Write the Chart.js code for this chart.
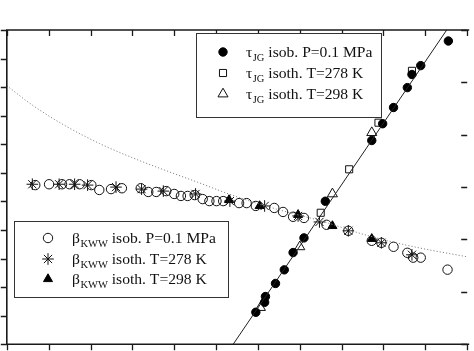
<!DOCTYPE html>
<html><head><meta charset="utf-8">
<script src="https://cdn.jsdelivr.net/npm/chart.js@4"></script>
<style>html,body{margin:0;padding:0;background:#fff}</style>
</head><body>
<canvas id="c" width="474" height="351"></canvas>
<script>
// ---- data (generic axis units) ----
const xTicks = [0,1,2,3,4,5,6,7,8,9,10,11];
const yLeftTicks = [0,1,2,3,4,5,6,7,8,9,10,11];
const yRightTicks = [0,1,2,3,4,5,6];

// beta_KWW isobaric P=0.1 MPa (open circles, left axis)
const betaIsobX = [0.68,1.01,1.32,1.50,1.74,2.02,2.21,2.49,2.75,3.20,3.38,3.57,3.81,4.00,4.16,4.32,4.49,4.68,4.84,5.01,5.17,5.55,5.73,5.95,6.39,6.60,6.84,7.10,7.64,8.16,8.72,8.95,9.24,9.57,9.71,9.89,10.53];
const betaIsobY = [5.57,5.60,5.60,5.60,5.60,5.57,5.40,5.43,5.46,5.46,5.33,5.33,5.36,5.26,5.19,5.19,5.22,5.08,5.01,5.01,5.01,4.94,4.94,4.84,4.77,4.63,4.46,4.42,4.18,3.97,3.62,3.55,3.41,3.20,3.03,3.03,2.61];
// beta_KWW isothermal T=278 K (stars)
const beta278X = [0.61,1.25,1.62,1.93,2.61,3.22,3.74,4.51,5.33,6.16,6.96,7.47,8.16,8.95,9.68];
const beta278Y = [5.60,5.60,5.60,5.57,5.50,5.43,5.36,5.26,5.01,4.84,4.49,4.28,3.97,3.55,3.13];
// beta_KWW isothermal T=298 K (filled triangles)
const beta298X = [5.31,6.04,6.96,7.78,8.72];
const beta298Y = [5.05,4.84,4.53,4.14,3.69];
// dotted guide curve (left axis)
const curveX = [0,0.63,1.43,2.21,2.98,3.78,4.56,5.38,6.44,7.50,8.56,9.73,11.0];
const curveY = [9.05,8.35,7.62,7.03,6.54,6.09,5.67,5.22,4.73,4.32,3.83,3.41,3.06];

// tau_JG isobaric P=0.1 MPa (filled circles, right axis)
const tauIsobX = [10.55,9.89,9.68,9.57,9.24,8.98,8.72,7.61,7.10,6.84,6.63,6.42,6.18,6.16,5.95];
const tauIsobY = [5.79,5.32,5.15,4.90,4.52,4.21,3.89,2.73,2.03,1.75,1.42,1.16,0.91,0.80,0.61];
// tau_JG isothermal T=278 K (open squares)
const tau278X = [9.68,8.88,8.18,7.50];
const tau278Y = [5.22,4.23,3.34,2.51];
// tau_JG isothermal T=298 K (open triangles)
const tau298X = [8.72,7.78,7.00,6.06];
const tau298Y = [4.04,2.87,1.86,0.70];
// linear fit through tau
const fitX = [5.41,10.51];
const fitY = [0,6.0];

const pts = (xs, ys) => xs.map((x,i)=>({x, y: ys[i]}));

const FONT = '"Liberation Serif", "Times New Roman", serif';

const legends = [
  {box:[196,33,381,117], symX:223, textX:246, rows:[
    {y:52, main:'τ', sub:'JG', rest:' isob. P=0.1 MPa', ds:2},
    {y:73, main:'τ', sub:'JG', rest:' isoth. T=278 K', ds:3},
    {y:94, main:'τ', sub:'JG', rest:' isoth. T=298 K', ds:4}]},
  {box:[14,221,228,297], symX:48, textX:72, rows:[
    {y:238, main:'β', sub:'KWW', rest:' isob. P=0.1 MPa', ds:5},
    {y:259, main:'β', sub:'KWW', rest:' isoth. T=278 K', ds:6},
    {y:279, main:'β', sub:'KWW', rest:' isoth. T=298 K', ds:7}]}
];

const framePlugin = {
  id: 'frame',
  afterDraw(chart) {
    const {ctx, chartArea: a, scales} = chart;
    ctx.save();
    ctx.strokeStyle = '#1a1a1a';
    ctx.lineWidth = 1.6;
    ctx.beginPath();
    ctx.moveTo(a.right + 2, a.top); ctx.lineTo(a.left, a.top);
    ctx.lineTo(a.left, a.bottom); ctx.lineTo(a.right + 2, a.bottom);
    ctx.stroke();
    ctx.lineWidth = 1.3;
    ctx.beginPath();
    xTicks.forEach(v => {
      const px = Math.round(scales.x.getPixelForValue(v)) + 0.5;
      ctx.moveTo(px, a.bottom); ctx.lineTo(px, a.bottom + 6);   // bottom outward
      ctx.moveTo(px, a.top); ctx.lineTo(px, a.top + 6);         // top inward
    });
    yLeftTicks.forEach(v => {
      const py = Math.round(scales.y.getPixelForValue(v)) + 0.5;
      ctx.moveTo(a.left - 6, py); ctx.lineTo(a.left, py);
    });
    yRightTicks.forEach(v => {
      const py = Math.round(scales.y2.getPixelForValue(v)) + 0.5;
      ctx.moveTo(a.right - 6, py); ctx.lineTo(a.right, py);
    });
    ctx.stroke();

    // legends
    legends.forEach(L => {
      const [x1,y1,x2,y2] = L.box;
      ctx.fillStyle = '#fff';
      ctx.fillRect(x1, y1, x2-x1, y2-y1);
      ctx.strokeStyle = '#333';
      ctx.lineWidth = 1;
      ctx.strokeRect(x1+0.5, y1+0.5, x2-x1, y2-y1);
      L.rows.forEach(r => {
        const ds = chart.data.datasets[r.ds];
        ctx.fillStyle = ds.pointBackgroundColor;
        ctx.strokeStyle = ds.pointBorderColor;
        ctx.lineWidth = ds.pointBorderWidth;
        Chart.helpers.drawPoint(ctx, {pointStyle: ds.pointStyle, radius: ds.pointRadius, rotation: 0, borderWidth: ds.pointBorderWidth}, L.symX, r.y);
        ctx.fillStyle = '#111';
        ctx.textBaseline = 'alphabetic';
        let x = L.textX;
        const base = r.y + 5;
        ctx.font = '15.6px ' + FONT;
        ctx.fillText(r.main, x, base); x += ctx.measureText(r.main).width + 0.5;
        ctx.font = '10.5px ' + FONT;
        ctx.fillText(r.sub, x, base + 4); x += ctx.measureText(r.sub).width;
        ctx.font = '15.6px ' + FONT;
        ctx.fillText(r.rest, x, base);
      });
    });
    ctx.restore();
  }
};

new Chart(document.getElementById('c'), {
  type: 'scatter',
  data: {
    datasets: [
      {type:'line', data: pts(fitX, fitY), yAxisID:'y2', borderColor:'#222', borderWidth:1, pointRadius:0, fill:false},
      {type:'line', data: pts(curveX, curveY), yAxisID:'y', borderColor:'#888', borderWidth:1, borderDash:[1.2,2], pointRadius:0, fill:false, cubicInterpolationMode:'monotone'},
      {label:'tau isob', data: pts(tauIsobX, tauIsobY), yAxisID:'y2', pointStyle:'circle', pointRadius:4.2, pointBackgroundColor:'#000', pointBorderColor:'#000', pointBorderWidth:1},
      {label:'tau 278', data: pts(tau278X, tau278Y), yAxisID:'y2', pointStyle:'rect', pointRadius:5, pointBackgroundColor:'#fff', pointBorderColor:'#111', pointBorderWidth:1},
      {label:'tau 298', data: pts(tau298X, tau298Y), yAxisID:'y2', pointStyle:'triangle', pointRadius:5.8, pointBackgroundColor:'#fff', pointBorderColor:'#111', pointBorderWidth:1},
      {label:'beta isob', data: pts(betaIsobX, betaIsobY), yAxisID:'y', pointStyle:'circle', pointRadius:4.7, pointBackgroundColor:'rgba(255,255,255,0)', pointBorderColor:'#111', pointBorderWidth:1},
      {label:'beta 278', data: pts(beta278X, beta278Y), yAxisID:'y', pointStyle:'star', pointRadius:5.8, pointBackgroundColor:'#111', pointBorderColor:'#111', pointBorderWidth:1},
      {label:'beta 298', data: pts(beta298X, beta298Y), yAxisID:'y', pointStyle:'triangle', pointRadius:5.2, pointBackgroundColor:'#000', pointBorderColor:'#000', pointBorderWidth:1}
    ]
  },
  options: {
    responsive: false,
    animation: false,
    devicePixelRatio: 1,
    layout: {padding: {left: 6, top: 30, right: 0, bottom: 5}},
    plugins: {legend: {display:false}, tooltip: {enabled:false}},
    elements: {line: {tension: 0}},
    scales: {
      x: {type:'linear', min:0, max:11, display:false},
      y: {type:'linear', min:0, max:11, display:false},
      y2: {type:'linear', min:0, max:6, display:false}
    }
  },
  plugins: [framePlugin]
});
</script>
</body></html>
